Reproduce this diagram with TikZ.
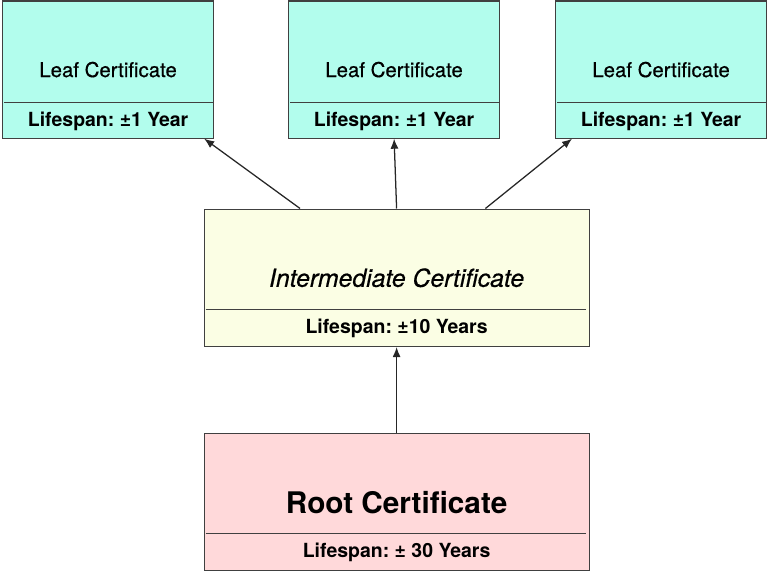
\documentclass[tikz,border=0pt]{standalone}
\usepackage{fontspec}
\setmainfont{TeX Gyre Heros}
\newfontfamily\medfont[FakeBold=0.5]{TeX Gyre Heros}
\frenchspacing
\usepackage{tikz}
\usetikzlibrary{positioning}
\usetikzlibrary{calc}
\usetikzlibrary{arrows.meta}
\usepackage{xcolor}
\definecolor{leafcyan}{RGB}{178,253,237}
\definecolor{midyellow}{RGB}{251,254,228}
\definecolor{rootpink}{RGB}{255,217,218}

\begin{document}
\begin{tikzpicture}[x=0.75pt,y=-0.75pt,
    certbox/.style={rectangle,draw=black!75,line width=0.9pt,inner sep=0pt,anchor=north west},
    leafbox/.style={certbox,fill=leafcyan,minimum width=158.25pt,minimum height=102.75pt,
      font=\medfont\fontsize{15.3}{18}\selectfont},
    bigbox/.style={certbox,minimum width=288.75pt,minimum height=103pt},
    spanlabel/.style={font=\bfseries\fontsize{14.6}{17}\selectfont},
    divider/.style={draw=black!75,line width=0.7pt}]
  \useasboundingbox (0,0) rectangle (768,571);
  % certificate boxes
  \node[leafbox] (leafA) at (2,0.5) {Leaf Certificate};
  \node[leafbox] (leafB) at (288,0.5) {Leaf Certificate};
  \node[leafbox] (leafC) at (555,0.5) {Leaf Certificate};
  \node[bigbox,fill=midyellow,font=\medfont\itshape\fontsize{18.6}{22}\selectfont] (inter) at (203.5,208.5) {Intermediate Certificate};
  \node[bigbox,fill=rootpink,font=\bfseries\fontsize{22.3}{26}\selectfont] (root) at (203.5,433) {Root Certificate};
  % lifespan parts
  \draw[divider] ($(leafA.south west)+(2,-36)$) -- ($(leafA.south east)+(0,-36)$);
  \draw[divider] ($(leafB.south west)+(2,-36)$) -- ($(leafB.south east)+(0,-36)$);
  \draw[divider] ($(leafC.south west)+(2,-36)$) -- ($(leafC.south east)+(0,-36)$);
  \draw[divider] ($(inter.south west)+(2,-38)$) -- ($(inter.south east)+(-4,-38)$);
  \draw[divider] ($(root.south west)+(2,-38)$) -- ($(root.south east)+(-4,-38)$);
  \node[spanlabel] (leafAspan) at ($(leafA.south)+(0,-17)$) {Lifespan: ±1 Year};
  \node[spanlabel] (leafBspan) at ($(leafB.south)+(0,-17)$) {Lifespan: ±1 Year};
  \node[spanlabel] (leafCspan) at ($(leafC.south)+(0,-17)$) {Lifespan: ±1 Year};
  \node[spanlabel] (interspan) at ($(inter.south)+(0,-19)$) {Lifespan: ±10 Years};
  \node[spanlabel] (rootspan) at ($(root.south)+(0,-19)$) {Lifespan: ± 30 Years};
  % trust chain
  \begin{scope}[every path/.style={->,draw=black!85,line width=0.95pt},>={Latex[length=7.5pt,width=6pt]}]
    \draw (root.north) -- (inter.south);
    \draw ($(inter.north west)!0.25!(inter.north east)$) -- ($(leafA.south east)+(-10,0)$);
    \draw (inter.north) -- (leafB.south);
    \draw ($(inter.north west)!0.73!(inter.north east)$) -- ($(leafC.south west)+(17,0)$);
  \end{scope}
\end{tikzpicture}
\end{document}
